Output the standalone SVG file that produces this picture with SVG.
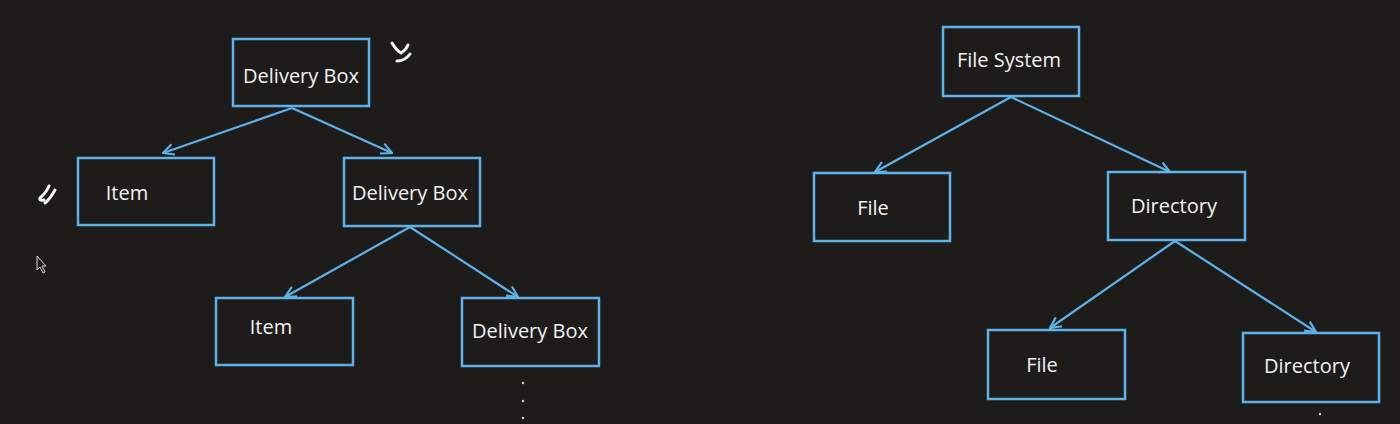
<svg xmlns="http://www.w3.org/2000/svg" width="1400" height="424" viewBox="0 0 1400 424">
<defs>
<style>
.box{fill:none;stroke:#5eb2e8;stroke-width:2.5}
.lbl{font-family:"Open Sans","Liberation Sans",sans-serif;font-size:20px;fill:#f2f2f2;text-anchor:middle}
.conn{stroke:#5eb2e8;stroke-width:2.2;fill:none;marker-end:url(#ah)}
.ink{fill:none;stroke:#f4f4f4;stroke-width:3;stroke-linecap:round;stroke-linejoin:round}
.dot{fill:#c9d6e6}
</style>
<marker id="ah" viewBox="0 0 12 12" refX="11" refY="6" markerWidth="13" markerHeight="13" markerUnits="userSpaceOnUse" orient="auto">
<path d="M1,1 L11,6 L1,11" fill="none" stroke="#5eb2e8" stroke-width="2"/>
</marker>
</defs>
<rect width="1400" height="424" fill="#1d1c1b"/>
<g id="connectors">
<line class="conn" x1="292" y1="108" x2="163" y2="153"/>
<line class="conn" x1="292" y1="108" x2="392" y2="153"/>
<line class="conn" x1="410" y1="227" x2="285" y2="297"/>
<line class="conn" x1="410" y1="227" x2="518" y2="297"/>
<line class="conn" x1="1011" y1="97" x2="875" y2="172"/>
<line class="conn" x1="1011" y1="97" x2="1170" y2="172"/>
<line class="conn" x1="1175" y1="241" x2="1050" y2="328"/>
<line class="conn" x1="1175" y1="241" x2="1316" y2="332"/>
</g>
<g id="n1"><rect class="box" x="233" y="39" width="136" height="67"/><text class="lbl" x="301" y="83">Delivery Box</text></g>
<g id="n2"><rect class="box" x="78" y="158" width="136" height="67"/><text class="lbl" x="127" y="200">Item</text></g>
<g id="n3"><rect class="box" x="344" y="158" width="136" height="68"/><text class="lbl" x="410" y="200">Delivery Box</text></g>
<g id="n4"><rect class="box" x="216" y="298" width="137" height="67"/><text class="lbl" x="271" y="334">Item</text></g>
<g id="n5"><rect class="box" x="462" y="298" width="137" height="68"/><text class="lbl" x="530" y="338">Delivery Box</text></g>
<g id="n6"><rect class="box" x="943" y="27" width="136" height="69"/><text class="lbl" x="1009" y="67">File System</text></g>
<g id="n7"><rect class="box" x="814" y="173" width="136" height="68"/><text class="lbl" x="873" y="215">File</text></g>
<g id="n8"><rect class="box" x="1108" y="172" width="137" height="68"/><text class="lbl" x="1174" y="213">Directory</text></g>
<g id="n9"><rect class="box" x="988" y="330" width="137" height="69"/><text class="lbl" x="1042" y="372">File</text></g>
<g id="n10"><rect class="box" x="1243" y="333" width="136" height="69"/><text class="lbl" x="1307" y="373">Directory</text></g>
<g id="marks">
<path class="ink" d="M392,43 Q396,50 401,53 Q406,50 408,45"/>
<path class="ink" d="M397,61 Q405,61 410,54"/>
<path class="ink" d="M49,186 Q46,193 40,198 Q39,201 44,200"/>
<path class="ink" d="M55,190 Q50,199 45,203"/>
<path d="M37,256 L37,270 L40,267 L43,273 L45,272 L42,266 L46,266 Z" fill="none" stroke="#d8d8d8" stroke-width="1"/>
<circle class="dot" cx="523" cy="383" r="1.2"/>
<circle class="dot" cx="523" cy="401" r="1.2"/>
<circle class="dot" cx="523" cy="418" r="1.2"/>
<circle class="dot" cx="1320" cy="414" r="1.2"/>
</g>
</svg>
